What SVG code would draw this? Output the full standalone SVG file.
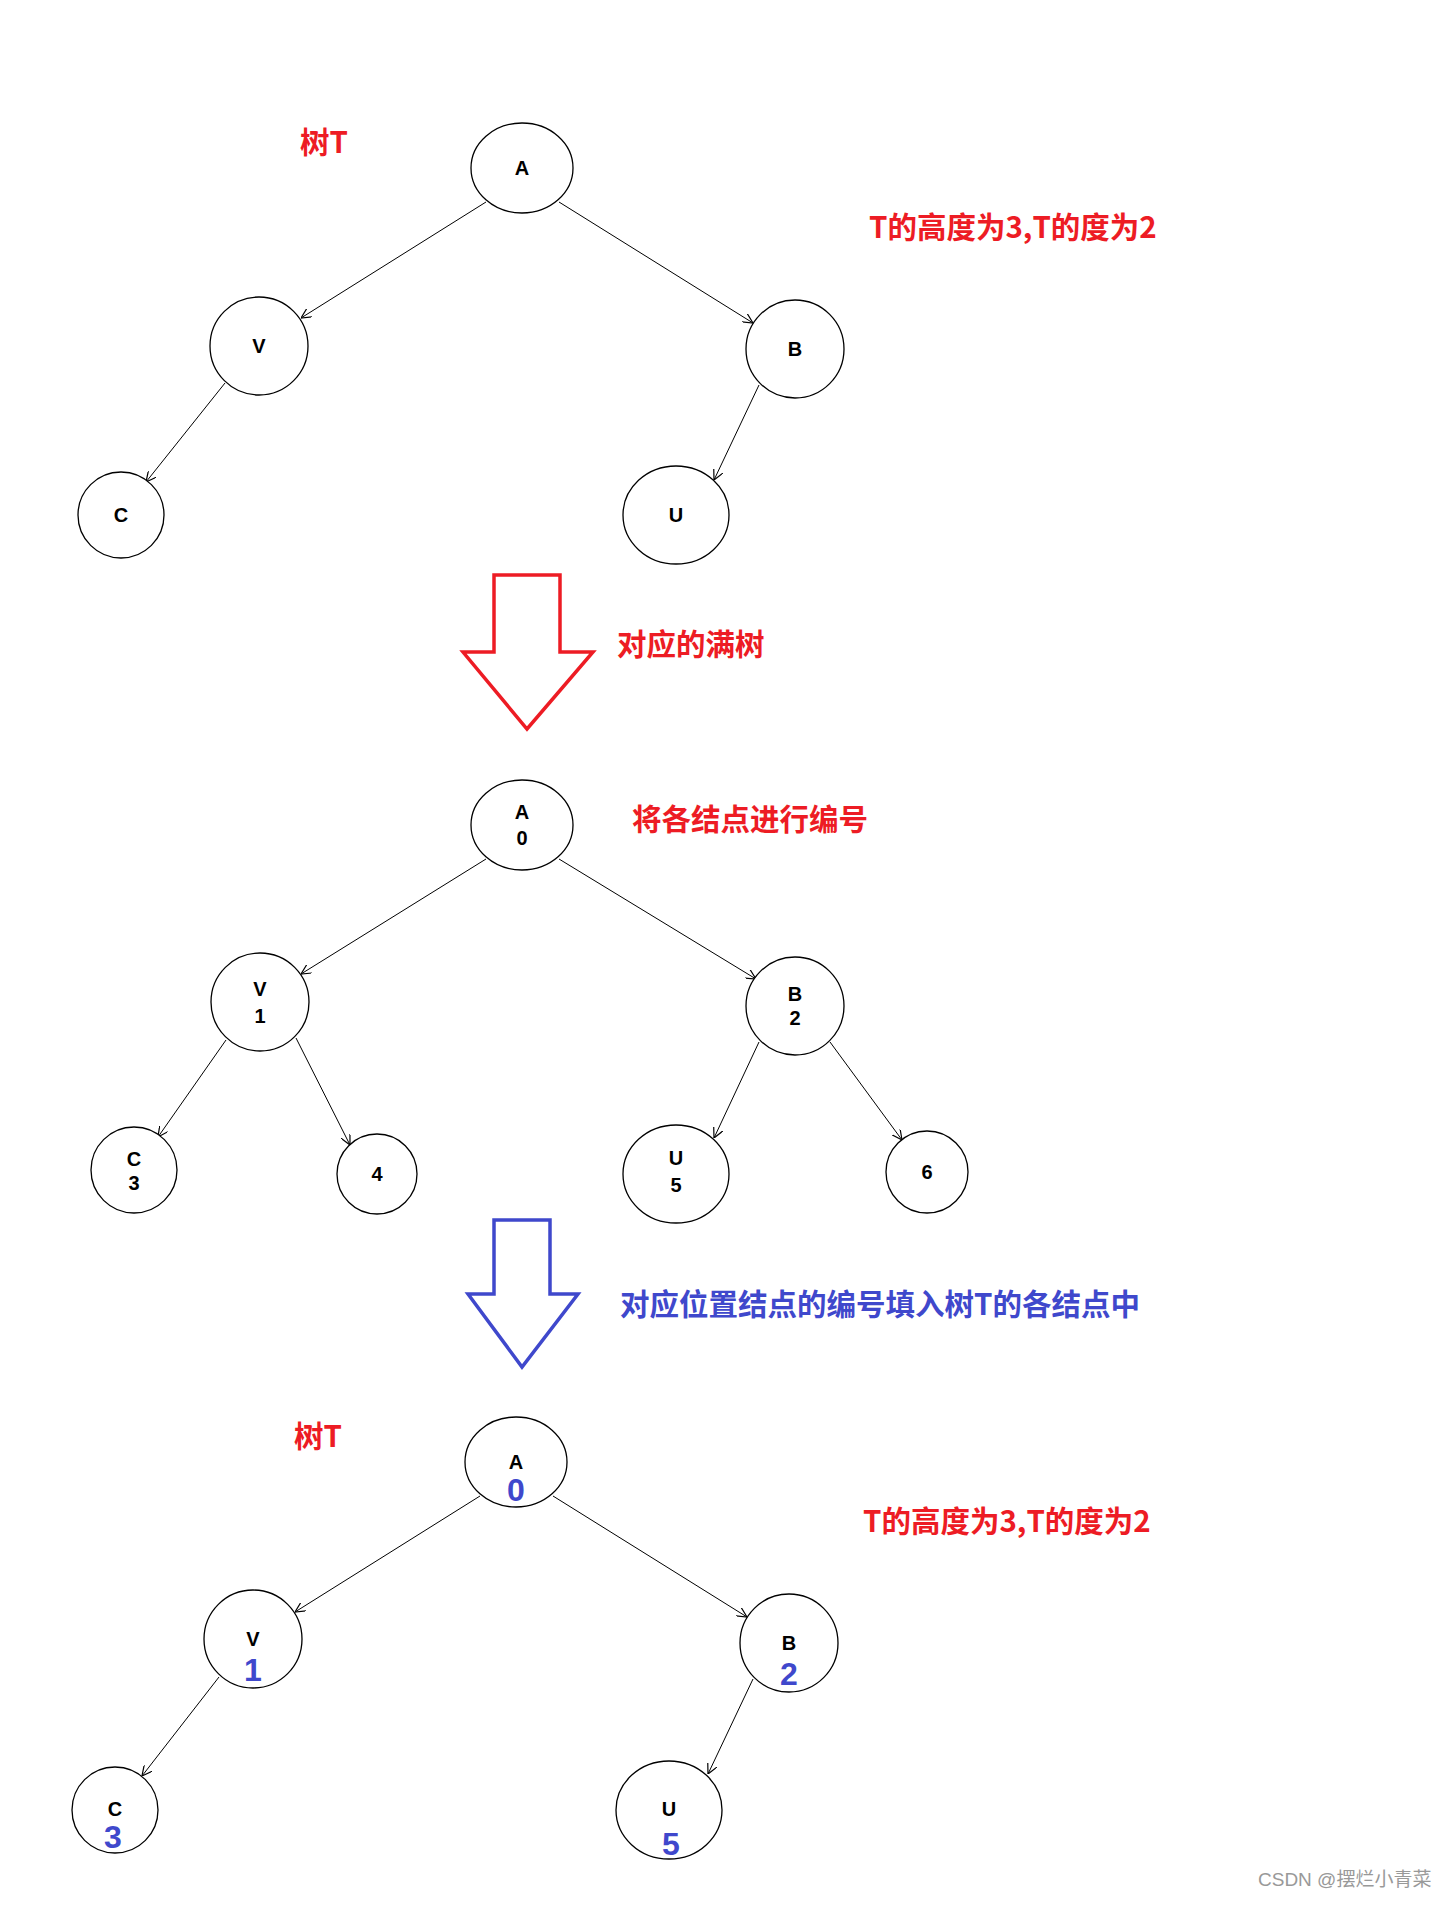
<svg xmlns="http://www.w3.org/2000/svg" width="1445" height="1905" viewBox="0 0 1445 1905">
<style>
.n{fill:#fff;stroke:#000;stroke-width:1.3}
.t{font-family:"Liberation Sans",Arial,sans-serif;font-weight:bold;font-size:20px;text-anchor:middle;dominant-baseline:central;fill:#000}
.b{font-family:"Liberation Sans",Arial,sans-serif;font-weight:bold;font-size:32px;text-anchor:middle;dominant-baseline:central;fill:#3f48cc}
.r{font-family:"Noto Sans CJK SC",sans-serif;font-weight:bold;font-size:29.5px;fill:#ed1c24;dominant-baseline:central}
.e{stroke:#000;stroke-width:1;fill:none;marker-end:url(#ah)}
</style>
<defs><marker id="ah" viewBox="0 0 10 10" refX="10" refY="5" markerWidth="10" markerHeight="10" orient="auto" markerUnits="userSpaceOnUse"><path d="M0,0L10,5L0,10" fill="none" stroke="#000" stroke-width="1.2"/></marker></defs>
<rect width="1445" height="1905" fill="#fff"/>
<g id="connectors">
<line class="e" x1="486" y1="202" x2="301" y2="318"/>
<line class="e" x1="559" y1="202" x2="753" y2="323"/>
<line class="e" x1="225" y1="383" x2="146" y2="482"/>
<line class="e" x1="759" y1="385" x2="714" y2="480"/>
<line class="e" x1="486" y1="859" x2="301" y2="974"/>
<line class="e" x1="559" y1="859" x2="756" y2="979"/>
<line class="e" x1="226" y1="1040" x2="158" y2="1137"/>
<line class="e" x1="296" y1="1038" x2="350" y2="1145"/>
<line class="e" x1="759" y1="1042" x2="714" y2="1138"/>
<line class="e" x1="830" y1="1042" x2="902" y2="1140"/>
<line class="e" x1="480" y1="1496" x2="295" y2="1612"/>
<line class="e" x1="553" y1="1496" x2="747" y2="1617"/>
<line class="e" x1="219" y1="1677" x2="142" y2="1776"/>
<line class="e" x1="753" y1="1679" x2="708" y2="1774"/>
</g>
<g id="tree1">
<g id="A1"><ellipse class="n" cx="522" cy="168" rx="51" ry="45"/><text class="t" x="522" y="168">A</text></g>
<g id="V1"><circle class="n" cx="259" cy="346" r="49"/><text class="t" x="259" y="346">V</text></g>
<g id="B1"><circle class="n" cx="795" cy="349" r="49"/><text class="t" x="795" y="349">B</text></g>
<g id="C1"><circle class="n" cx="121" cy="515" r="43"/><text class="t" x="121" y="515">C</text></g>
<g id="U1"><ellipse class="n" cx="676" cy="515" rx="53" ry="49"/><text class="t" x="676" y="515">U</text></g>
<text class="r" x="300" y="140">树T</text>
<text class="r" x="869" y="225">T的高度为3,T的度为2</text>
</g>
<g id="arrow-red"><polygon points="494,575 560,575 560,652 593,652 527,729 463,652 494,652" fill="none" stroke="#ed1c24" stroke-width="3.5"/>
<text class="r" x="617" y="642">对应的满树</text></g>
<g id="tree2">
<g id="A2"><ellipse class="n" cx="522" cy="825" rx="51" ry="45"/><text class="t" x="522" y="812">A</text><text class="t" x="522" y="838">0</text></g>
<g id="V2"><circle class="n" cx="260" cy="1002" r="49"/><text class="t" x="260" y="989">V</text><text class="t" x="260" y="1016">1</text></g>
<g id="B2"><circle class="n" cx="795" cy="1006" r="49"/><text class="t" x="795" y="994">B</text><text class="t" x="795" y="1018">2</text></g>
<g id="C2"><circle class="n" cx="134" cy="1170" r="43"/><text class="t" x="134" y="1159">C</text><text class="t" x="134" y="1183">3</text></g>
<g id="N4"><circle class="n" cx="377" cy="1174" r="40"/><text class="t" x="377" y="1174">4</text></g>
<g id="U2"><ellipse class="n" cx="676" cy="1174" rx="53" ry="49"/><text class="t" x="676" y="1158">U</text><text class="t" x="676" y="1185">5</text></g>
<g id="N6"><circle class="n" cx="927" cy="1172" r="41"/><text class="t" x="927" y="1172">6</text></g>
<text class="r" x="632" y="817">将各结点进行编号</text>
</g>
<g id="arrow-blue"><polygon points="494,1220 550,1220 550,1294 578,1294 522,1367 468,1294 494,1294" fill="none" stroke="#3f48cc" stroke-width="3.5"/>
<text class="r" x="620" y="1302" style="fill:#3f48cc">对应位置结点的编号填入树T的各结点中</text></g>
<g id="tree3">
<g id="A3"><ellipse class="n" cx="516" cy="1462" rx="51" ry="45"/><text class="t" x="516" y="1462">A</text><text class="b" x="516" y="1490">0</text></g>
<g id="V3"><circle class="n" cx="253" cy="1639" r="49"/><text class="t" x="253" y="1639">V</text><text class="b" x="253" y="1670">1</text></g>
<g id="B3"><circle class="n" cx="789" cy="1643" r="49"/><text class="t" x="789" y="1643">B</text><text class="b" x="789" y="1674">2</text></g>
<g id="C3"><circle class="n" cx="115" cy="1810" r="43"/><text class="t" x="115" y="1809">C</text><text class="b" x="113" y="1837">3</text></g>
<g id="U3"><ellipse class="n" cx="669" cy="1810" rx="53" ry="49"/><text class="t" x="669" y="1809">U</text><text class="b" x="671" y="1844">5</text></g>
<text class="r" x="294" y="1434">树T</text>
<text class="r" x="863" y="1519">T的高度为3,T的度为2</text>
</g>
<text x="1258" y="1886" font-family="'Liberation Sans','Noto Sans CJK SC',sans-serif" font-size="19" fill="#999">CSDN @摆烂小青菜</text>
</svg>
